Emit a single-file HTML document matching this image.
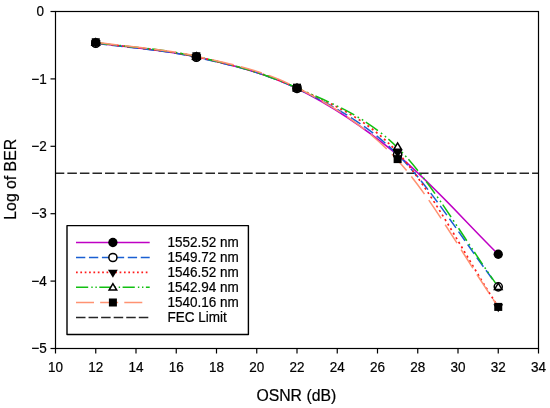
<!DOCTYPE html>
<html><head><meta charset="utf-8"><title>BER vs OSNR</title><style>
html,body{margin:0;padding:0;background:#fff;}
body{width:550px;height:408px;overflow:hidden;}
svg{display:block;}
</style></head><body>
<svg width="550" height="408" viewBox="0 0 550 408">
<rect width="550" height="408" fill="#fff"/>
<line x1="55.5" y1="173.26" x2="538.5" y2="173.26" stroke="#262626" stroke-width="1.5" stroke-dasharray="9.5 3.06" stroke-dashoffset="0.7"/>
<path d="M95.75,42.98 C129.29,47.65 162.83,49.41 196.38,57.00 C229.92,64.58 263.46,72.15 297.00,88.47 C330.54,104.79 364.08,127.29 397.62,154.93 C431.17,182.56 464.71,221.16 498.25,254.27" fill="none" stroke="#bf00c4" stroke-width="1.5"/>
<path d="M95.75,43.25 C129.29,47.92 162.83,49.73 196.38,57.26 C229.92,64.80 263.46,72.25 297.00,88.47 C330.54,104.69 364.08,121.53 397.62,154.59 C431.17,187.65 464.71,242.75 498.25,286.83" fill="none" stroke="#1a5fd2" stroke-width="1.5" stroke-dasharray="11.35 4.45"/>
<path d="M95.75,42.77 C129.29,47.42 162.83,49.19 196.38,56.73 C229.92,64.26 263.46,72.04 297.00,88.00 C330.54,103.96 364.08,116.01 397.62,152.50 C431.17,188.99 464.71,255.44 498.25,306.91" fill="none" stroke="#ff1a1a" stroke-width="1.7" stroke-dasharray="2.07 3.25"/>
<path d="M95.75,42.50 C129.29,47.15 162.83,48.88 196.38,56.46 C229.92,64.03 263.46,72.71 297.00,87.93 C330.54,103.15 364.08,114.63 397.62,147.78 C431.17,180.93 464.71,240.48 498.25,286.83" fill="none" stroke="#12c012" stroke-width="1.5" stroke-dasharray="14.88 3.78 1.71 3.29 1.71 3.05"/>
<path d="M95.75,42.23 C129.29,46.91 162.83,48.68 196.38,56.25 C229.92,63.82 263.46,70.33 297.00,87.66 C330.54,105.00 364.08,123.71 397.62,160.25 C431.17,196.79 464.71,258.03 498.25,306.91" fill="none" stroke="#ff9272" stroke-width="1.5" stroke-dasharray="21.96 7.50"/>
<circle cx="95.75" cy="42.98" r="4.65" fill="#000"/>
<circle cx="196.38" cy="57.00" r="4.65" fill="#000"/>
<circle cx="297.00" cy="88.47" r="4.65" fill="#000"/>
<circle cx="397.62" cy="154.93" r="4.65" fill="#000"/>
<circle cx="498.25" cy="254.27" r="4.65" fill="#000"/>
<circle cx="95.75" cy="43.25" r="4.05" fill="#fff" stroke="#000" stroke-width="1.5"/>
<circle cx="196.38" cy="57.26" r="4.05" fill="#fff" stroke="#000" stroke-width="1.5"/>
<circle cx="297.00" cy="88.47" r="4.05" fill="#fff" stroke="#000" stroke-width="1.5"/>
<circle cx="397.62" cy="154.59" r="4.05" fill="#fff" stroke="#000" stroke-width="1.5"/>
<circle cx="498.25" cy="286.83" r="4.05" fill="#fff" stroke="#000" stroke-width="1.5"/>
<polygon points="90.85,40.21 100.65,40.21 95.75,48.21" fill="#000"/>
<polygon points="191.47,54.16 201.28,54.16 196.38,62.16" fill="#000"/>
<polygon points="292.10,85.43 301.90,85.43 297.00,93.43" fill="#000"/>
<polygon points="392.73,149.93 402.52,149.93 397.62,157.93" fill="#000"/>
<polygon points="493.35,304.35 503.15,304.35 498.25,312.35" fill="#000"/>
<polygon points="91.95,45.24 99.55,45.24 95.75,38.84" fill="#fff" stroke="#000" stroke-width="1.5" stroke-linejoin="miter"/>
<polygon points="192.57,59.19 200.18,59.19 196.38,52.79" fill="#fff" stroke="#000" stroke-width="1.5" stroke-linejoin="miter"/>
<polygon points="293.20,90.66 300.80,90.66 297.00,84.26" fill="#fff" stroke="#000" stroke-width="1.5" stroke-linejoin="miter"/>
<polygon points="393.82,149.37 401.43,149.37 397.62,142.97" fill="#fff" stroke="#000" stroke-width="1.5" stroke-linejoin="miter"/>
<polygon points="494.45,289.56 502.05,289.56 498.25,283.16" fill="#fff" stroke="#000" stroke-width="1.5" stroke-linejoin="miter"/>
<rect x="91.75" y="38.23" width="8.0" height="8.0" fill="#000"/>
<rect x="192.38" y="52.25" width="8.0" height="8.0" fill="#000"/>
<rect x="293.00" y="83.66" width="8.0" height="8.0" fill="#000"/>
<rect x="393.62" y="155.11" width="8.0" height="8.0" fill="#000"/>
<rect x="494.25" y="302.91" width="8.0" height="8.0" fill="#000"/>
<g stroke="#000" stroke-width="1.2" fill="none">
<rect x="55.5" y="11.5" width="483" height="337"/>
<line x1="55.50" y1="348.5" x2="55.50" y2="353.5"/>
<line x1="95.75" y1="348.5" x2="95.75" y2="353.5"/>
<line x1="136.00" y1="348.5" x2="136.00" y2="353.5"/>
<line x1="176.25" y1="348.5" x2="176.25" y2="353.5"/>
<line x1="216.50" y1="348.5" x2="216.50" y2="353.5"/>
<line x1="256.75" y1="348.5" x2="256.75" y2="353.5"/>
<line x1="297.00" y1="348.5" x2="297.00" y2="353.5"/>
<line x1="337.25" y1="348.5" x2="337.25" y2="353.5"/>
<line x1="377.50" y1="348.5" x2="377.50" y2="353.5"/>
<line x1="417.75" y1="348.5" x2="417.75" y2="353.5"/>
<line x1="458.00" y1="348.5" x2="458.00" y2="353.5"/>
<line x1="498.25" y1="348.5" x2="498.25" y2="353.5"/>
<line x1="538.50" y1="348.5" x2="538.50" y2="353.5"/>
<line x1="50.5" y1="11.50" x2="55.5" y2="11.50"/>
<line x1="50.5" y1="78.90" x2="55.5" y2="78.90"/>
<line x1="50.5" y1="146.30" x2="55.5" y2="146.30"/>
<line x1="50.5" y1="213.70" x2="55.5" y2="213.70"/>
<line x1="50.5" y1="281.10" x2="55.5" y2="281.10"/>
<line x1="50.5" y1="348.50" x2="55.5" y2="348.50"/>
</g>
<g font-family="&quot;Liberation Sans&quot;, Arial, sans-serif" fill="#000" stroke="#000" stroke-width="0.2">
<text transform="translate(55.50,371.50) scale(1,1.05)" font-size="13.5" text-anchor="middle">10</text>
<text transform="translate(95.75,371.50) scale(1,1.05)" font-size="13.5" text-anchor="middle">12</text>
<text transform="translate(136.00,371.50) scale(1,1.05)" font-size="13.5" text-anchor="middle">14</text>
<text transform="translate(176.25,371.50) scale(1,1.05)" font-size="13.5" text-anchor="middle">16</text>
<text transform="translate(216.50,371.50) scale(1,1.05)" font-size="13.5" text-anchor="middle">18</text>
<text transform="translate(256.75,371.50) scale(1,1.05)" font-size="13.5" text-anchor="middle">20</text>
<text transform="translate(297.00,371.50) scale(1,1.05)" font-size="13.5" text-anchor="middle">22</text>
<text transform="translate(337.25,371.50) scale(1,1.05)" font-size="13.5" text-anchor="middle">24</text>
<text transform="translate(377.50,371.50) scale(1,1.05)" font-size="13.5" text-anchor="middle">26</text>
<text transform="translate(417.75,371.50) scale(1,1.05)" font-size="13.5" text-anchor="middle">28</text>
<text transform="translate(458.00,371.50) scale(1,1.05)" font-size="13.5" text-anchor="middle">30</text>
<text transform="translate(498.25,371.50) scale(1,1.05)" font-size="13.5" text-anchor="middle">32</text>
<text transform="translate(538.50,371.50) scale(1,1.05)" font-size="13.5" text-anchor="middle">34</text>
<text transform="translate(40.20,16.20) scale(1,1.05)" font-size="13.5" text-anchor="middle">0</text>
<text transform="translate(39.00,83.60) scale(1,1.05)" font-size="13.5" text-anchor="middle">−1</text>
<text transform="translate(39.00,151.00) scale(1,1.05)" font-size="13.5" text-anchor="middle">−2</text>
<text transform="translate(39.00,218.40) scale(1,1.05)" font-size="13.5" text-anchor="middle">−3</text>
<text transform="translate(39.00,285.80) scale(1,1.05)" font-size="13.5" text-anchor="middle">−4</text>
<text transform="translate(39.00,353.20) scale(1,1.05)" font-size="13.5" text-anchor="middle">−5</text>
<text transform="translate(296.30,401.00) scale(1,1.05)" font-size="15.8" text-anchor="middle">OSNR (dB)</text>
<text transform="translate(16.40,179.30) rotate(-90) scale(1,1.05)" font-size="15.8" text-anchor="middle">Log of BER</text>
</g>
<rect x="67" y="225.6" width="181.4" height="108.9" fill="#fff" stroke="#000" stroke-width="1.4" stroke-linejoin="round"/>
<line x1="76.0" y1="242.5" x2="149.7" y2="242.5" stroke="#bf00c4" stroke-width="1.5"/>
<circle cx="112.90" cy="242.50" r="4.65" fill="#000"/>
<line x1="76.0" y1="257.5" x2="149.7" y2="257.5" stroke="#1a5fd2" stroke-width="1.5" stroke-dasharray="9.30 3.65"/>
<circle cx="112.90" cy="257.50" r="4.05" fill="#fff" stroke="#000" stroke-width="1.5"/>
<line x1="76.0" y1="272.4" x2="149.7" y2="272.4" stroke="#ff1a1a" stroke-width="1.7" stroke-dasharray="1.70 2.66"/>
<polygon points="108.00,269.83 117.80,269.83 112.90,277.83" fill="#000"/>
<line x1="76.0" y1="287.3" x2="149.7" y2="287.3" stroke="#12c012" stroke-width="1.5" stroke-dasharray="12.20 3.10 1.40 2.70 1.40 2.50"/>
<polygon points="109.10,290.03 116.70,290.03 112.90,283.63" fill="#fff" stroke="#000" stroke-width="1.5" stroke-linejoin="miter"/>
<line x1="76.0" y1="302.5" x2="147.5" y2="302.5" stroke="#ff9272" stroke-width="1.5" stroke-dasharray="18.00 6.15"/>
<rect x="108.90" y="298.50" width="8.0" height="8.0" fill="#000"/>
<line x1="76.0" y1="317.4" x2="149.7" y2="317.4" stroke="#262626" stroke-width="1.5" stroke-dasharray="9.5 3.06"/>
<g font-family="&quot;Liberation Sans&quot;, Arial, sans-serif" fill="#000" stroke="#000" stroke-width="0.2">
<text transform="translate(167.50,247.30) scale(1,1.05)" font-size="13.5">1552.52 nm</text>
<text transform="translate(167.50,262.30) scale(1,1.05)" font-size="13.5">1549.72 nm</text>
<text transform="translate(167.50,277.20) scale(1,1.05)" font-size="13.5">1546.52 nm</text>
<text transform="translate(167.50,292.10) scale(1,1.05)" font-size="13.5">1542.94 nm</text>
<text transform="translate(167.50,307.30) scale(1,1.05)" font-size="13.5">1540.16 nm</text>
<text transform="translate(167.50,322.20) scale(1,1.05)" font-size="13.5">FEC Limit</text>
</g>
</svg>
</body></html>
